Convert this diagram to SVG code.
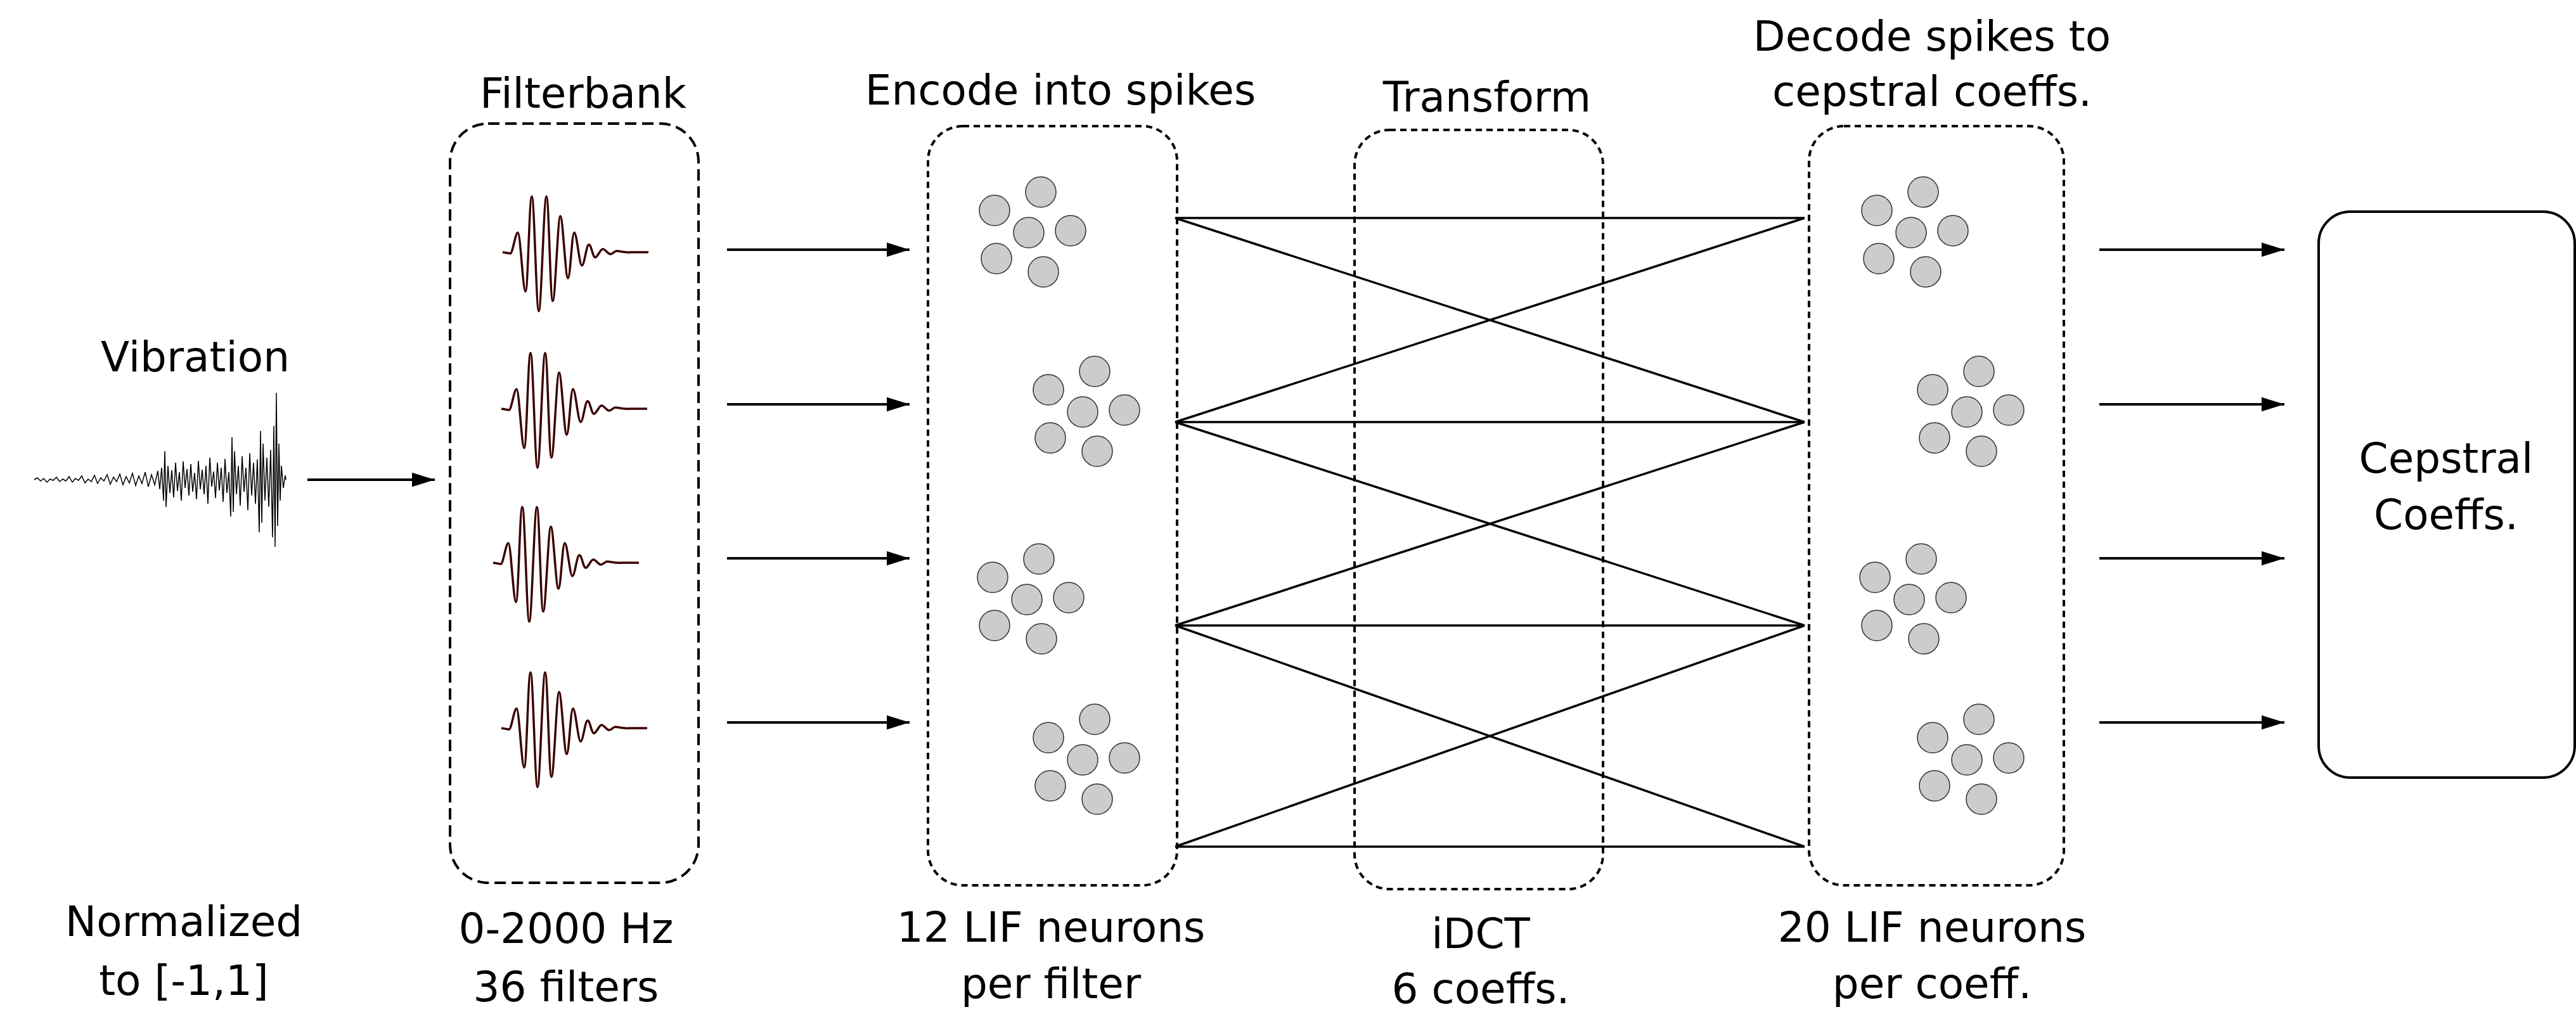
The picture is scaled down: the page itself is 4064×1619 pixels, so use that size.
<svg xmlns="http://www.w3.org/2000/svg" width="4064" height="1619" viewBox="0 0 4064 1619">
<style>
text{font-family:"DejaVu Sans","Verdana",sans-serif;font-size:66px;fill:#000;text-anchor:middle}
.fb{fill:none;stroke:#000;stroke-width:4;stroke-dasharray:18 9}
.db{fill:none;stroke:#000;stroke-width:4;stroke-dasharray:10 7}
.ar{stroke:#000;stroke-width:4;fill:none;marker-end:url(#ah)}
.ln{stroke:#000;stroke-width:3.5;fill:none}
.n{fill:#cccccc;stroke:#333;stroke-width:1.5}
.w{fill:none;stroke:#3a0000;stroke-width:3.5}
</style>
<defs>
<marker id="ah" markerWidth="10" markerHeight="10" refX="9" refY="5" orient="auto" markerUnits="strokeWidth"><path d="M0,2.2 L9,5 L0,7.8 Z" fill="#000"/></marker>
<path id="wave" class="w" d="M793 0 L805 2 C809 2 813 -31 817 -31 C821 -31 825 62 829 62 C833 62 835 -88 839 -88 C843 -88 846 93 850 93 C854 93 858 -88 862 -88 C866 -88 868 77 872 77 C876 77 880 -57 884 -57 C888 -57 892 41 896 41 C900 41 902 -31 906 -31 C910 -31 914 21 918 21 C922 21 925 -12 929 -12 C933 -12 935 8 939 8 C943 8 947 -5 951 -5 C955 -5 959 3 963 3 C967 3 969 -2 973 -2 C977 -2 985 1 995 0 L1023 0"/>
<g id="cl">
<circle class="n" cx="0" cy="29" r="24"/><circle class="n" cx="73" cy="0" r="24"/><circle class="n" cx="54" cy="64" r="24"/><circle class="n" cx="120" cy="61" r="24"/><circle class="n" cx="3" cy="105" r="24"/><circle class="n" cx="77" cy="126" r="24"/>
</g>
</defs>

<g id="vibration">
<text x="308" y="586">Vibration</text>
<polyline fill="none" stroke="#000" stroke-width="1.5" points="54,757 59,754 64,759 69,755 74,761 79,756 84,758 89,753 94,760 99,756 104,759 109,752 114,761 119,755 124,758 129,751 134,762 139,756 144,760 149,750 154,763 159,754 164,759 169,749 174,764 179,753 184,760 189,748 194,765 199,752 204,762 209,747 214,766 219,751 224,763 229,745 234,768 239,749 244,765 249,743 252,772 255,738 258,790 260,712 262,800 265,735 268,778 271,742 274,785 277,730 280,775 283,745 286,790 289,728 292,770 295,740 298,782 301,732 304,776 307,746 310,788 313,727 316,772 319,741 322,780 325,735 328,795 331,722 334,768 337,744 340,786 343,730 346,774 349,738 352,792 355,724 358,778 361,745 364,815 366,690 368,808 370,712 373,780 376,735 379,798 382,720 385,776 388,738 391,805 394,715 397,782 400,730 403,795 406,725 409,840 411,680 413,825 415,700 418,790 421,722 424,800 427,710 430,848 432,672 434,863 436,620 438,830 440,700 442,790 444,735 447,770 450,750 451,757"/>
<text x="290" y="1477">Normalized</text>
<text x="290" y="1570">to [-1,1]</text>
</g>

<g id="filterbank">
<text x="920" y="170">Filterbank</text>
<rect class="fb" x="710" y="195" width="392" height="1198" rx="60"/>
<use href="#wave" transform="translate(0,398)"/>
<use href="#wave" transform="translate(-2,645)"/>
<use href="#wave" transform="translate(-15,888)"/>
<use href="#wave" transform="translate(-2,1149)"/>
<text x="893" y="1488">0-2000 Hz</text>
<text x="893" y="1580">36 filters</text>
</g>

<g id="encode">
<text x="1673" y="165">Encode into spikes</text>
<rect class="db" x="1464" y="199" width="393" height="1198" rx="55"/>
<use href="#cl" transform="translate(1569,303)"/>
<use href="#cl" transform="translate(1654,586)"/>
<use href="#cl" transform="translate(1566,882)"/>
<use href="#cl" transform="translate(1654,1135)"/>
<text x="1658" y="1486">12 LIF neurons</text>
<text x="1658" y="1575">per filter</text>
</g>

<g id="transform">
<text x="2346" y="176">Transform</text>
<rect class="db" x="2137" y="205" width="392" height="1198" rx="55"/>
<text x="2336" y="1496">iDCT</text>
<text x="2336" y="1583">6 coeffs.</text>
</g>

<g id="decode">
<text x="3048" y="80">Decode spikes to</text>
<text x="3048" y="167">cepstral coeffs.</text>
<rect class="db" x="2854" y="199" width="402" height="1198" rx="55"/>
<use href="#cl" transform="translate(2961,303)"/>
<use href="#cl" transform="translate(3049,586)"/>
<use href="#cl" transform="translate(2958,882)"/>
<use href="#cl" transform="translate(3049,1135)"/>
<text x="3048" y="1486">20 LIF neurons</text>
<text x="3048" y="1575">per coeff.</text>
</g>

<g id="cepstral">
<rect x="3658" y="334" width="404" height="893" rx="50" fill="none" stroke="#000" stroke-width="4"/>
<text x="3859" y="746">Cepstral</text>
<text x="3859" y="835">Coeffs.</text>
</g>

<g id="connectors">
<line class="ar" x1="485" y1="757" x2="686" y2="757"/>
<line class="ar" x1="1147" y1="394" x2="1435" y2="394"/>
<line class="ar" x1="1147" y1="638" x2="1435" y2="638"/>
<line class="ar" x1="1147" y1="881" x2="1435" y2="881"/>
<line class="ar" x1="1147" y1="1140" x2="1435" y2="1140"/>
<line class="ar" x1="3312" y1="394" x2="3604" y2="394"/>
<line class="ar" x1="3312" y1="638" x2="3604" y2="638"/>
<line class="ar" x1="3312" y1="881" x2="3604" y2="881"/>
<line class="ar" x1="3312" y1="1140" x2="3604" y2="1140"/>
<line class="ln" x1="1854" y1="344" x2="2847" y2="344"/>
<line class="ln" x1="1854" y1="666" x2="2847" y2="666"/>
<line class="ln" x1="1854" y1="987" x2="2847" y2="987"/>
<line class="ln" x1="1854" y1="1336" x2="2847" y2="1336"/>
<line class="ln" x1="1854" y1="344" x2="2847" y2="666"/>
<line class="ln" x1="1854" y1="666" x2="2847" y2="344"/>
<line class="ln" x1="1854" y1="666" x2="2847" y2="987"/>
<line class="ln" x1="1854" y1="987" x2="2847" y2="666"/>
<line class="ln" x1="1854" y1="987" x2="2847" y2="1336"/>
<line class="ln" x1="1854" y1="1336" x2="2847" y2="987"/>
</g>
</svg>
